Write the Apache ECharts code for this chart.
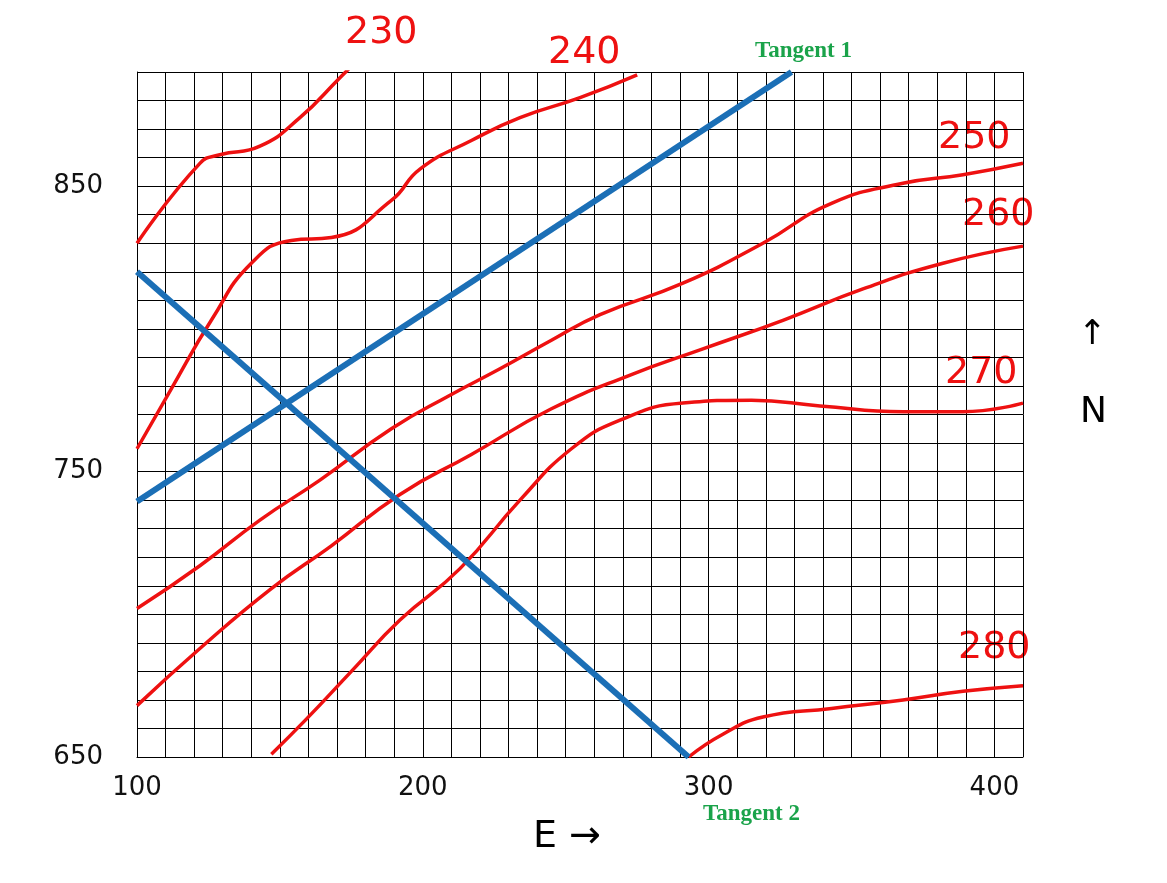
<!DOCTYPE html>
<html><head><meta charset="utf-8">
<script src="https://cdn.jsdelivr.net/npm/echarts@6/dist/echarts.min.js"></script>
<style>html,body{margin:0;padding:0;background:#fff}#c{width:1167px;height:883px}</style>
</head><body><div id="c"></div>
<script>
const xTicks = [100, 200, 300, 400];
const yTicks = [650, 750, 850];
const c230 = [[100,830],[122,858],[129,861],[143,864],[157,874],[171,888],[175,892]];
const c240 = [[100,758],[112,779],[126,803],[140,823],[154,831],[168,832],[189,845],[199,856],[217,866],[234,874],[255,881],[275,889]];
const c250 = [[100,702],[122,717],[143,733],[164,747],[189,765],[210,777],[227,786],[245,796],[262,805],[291,816],[319,830],[343,844],[368,851],[389,854],[410,858]];
const c260 = [[100,668],[122,688],[147,709],[168,724],[192,742],[217,756],[245,772],[273,784],[298,793],[326,803],[354,814],[382,823],[410,829]];
const c270 = [[147,651],[159,663],[175,680],[192,698],[213,716],[234,740],[252,758],[269,768],[291,774],[315,775],[339,773],[368,771],[389,771],[410,774]];
const c280 = [[293,650],[305,658],[319,664],[343,667],[368,670],[389,673],[410,675]];
const tangent1 = [[100,739.5],[329,890]];
const tangent2 = [[100,820],[293,650]];
const contourLabels = ['230','240','250','260','270','280'];

const red = s => ({type:'line', data:s, smooth:true, symbol:'none', lineStyle:{color:'#ee1111', width:3.5}, clip:true});
const blue = s => ({type:'line', data:s, symbol:'none', lineStyle:{color:'#1b6fb6', width:6}, clip:true});
const hand = {fontFamily:'DejaVu Sans', color:'#111', fontSize:26};
const lblPos = [[345,32],[548,52],[938,137],[962,214],[945,372],[958,647]];

const chart = echarts.init(document.getElementById('c'));
chart.setOption({
  animation:false,
  grid:{left:137,right:144,top:72,bottom:126},
  xAxis:{type:'value',min:100,max:410,interval:10,
    axisLine:{lineStyle:{color:'#000',width:1}},axisTick:{show:false},
    splitLine:{lineStyle:{color:'#000',width:1}},
    axisLabel:Object.assign({margin:18,formatter:v=>xTicks.includes(v)?String(v):''},hand)},
  yAxis:{type:'value',min:650,max:890,interval:10,
    axisLine:{show:true,lineStyle:{color:'#000',width:1}},axisTick:{show:false},
    splitLine:{lineStyle:{color:'#000',width:1}},
    axisLabel:Object.assign({margin:34,formatter:v=>yTicks.includes(v)?String(v):''},hand)},
  series:[red(c230),red(c240),red(c250),red(c260),red(c270),red(c280),blue(tangent1),blue(tangent2)],
  graphic:[
    ...contourLabels.map((t,i)=>({type:'text',left:lblPos[i][0],top:lblPos[i][1]-18,style:{text:t,fill:'#ee1111',font:'38px "DejaVu Sans"'}})),
    {type:'text',left:755,top:40,style:{text:'Tangent 1',fill:'#1aa34a',font:'bold 23px "Liberation Serif"'}},
    {type:'text',left:703,top:803,style:{text:'Tangent 2',fill:'#1aa34a',font:'bold 23px "Liberation Serif"'}},
    {type:'text',left:533,top:818,style:{text:'E →',fill:'#000',font:'38px "DejaVu Sans"'}},
    {type:'text',left:1078,top:318,style:{text:'↑',fill:'#000',font:'34px "DejaVu Sans"'}},
    {type:'text',left:1080,top:395,style:{text:'N',fill:'#000',font:'36px "DejaVu Sans"'}}
  ]
});
</script></body></html>
